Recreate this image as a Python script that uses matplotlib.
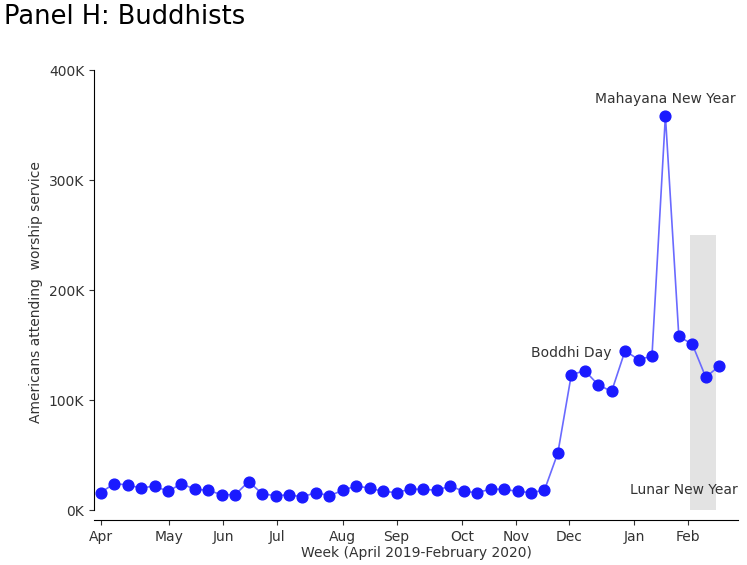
import matplotlib
matplotlib.use("Agg")
import matplotlib.pyplot as plt
from matplotlib.patches import Rectangle

values_k = [16,24,23,20,22,17,24,19,18,14,14,26,15,13,14,12,16,13,18,22,20,17,16,19,19,18,22,17,16,19,19,17,16,18,52,123,127,114,108,145,137,140,359,158,151,121,131]
weeks = list(range(len(values_k)))
month_labels = ["Apr","May","Jun","Jul","Aug","Sep","Oct","Nov","Dec","Jan","Feb"]
month_pos = [0,5.1,9.1,13.1,18.0,22.0,26.9,30.9,34.8,39.7,43.7]

fig = plt.figure(figsize=(7.47,5.65), dpi=100)
ax = fig.add_axes([94/747, 1-520/565, (738-94)/747, (520-65)/565])
ax.add_patch(Rectangle((43.8,0),2.0,250000,color="#e3e3e3",zorder=0,lw=0))
ax.plot(weeks,[v*1000 for v in values_k],color="#6a6aff",lw=1.2,zorder=2)
ax.scatter(weeks,[v*1000 for v in values_k],s=60,color="#1a1aff",zorder=3)
ax.set_xlim(-0.5,47.4)
ax.set_ylim(-9000,405000)
ax.set_yticks([0,100000,200000,300000,400000])
ax.set_yticklabels(["0K","100K","200K","300K","400K"])
ax.set_xticks(month_pos)
ax.set_xticklabels(month_labels)
for s in ["top","right"]:
    ax.spines[s].set_visible(False)
ax.spines["left"].set_bounds(0,400000)
ax.tick_params(labelsize=10,colors="#333333")
ax.set_ylabel("Americans attending  worship service",fontsize=10,color="#333333")
ax.set_xlabel("Week (April 2019-February 2020)",fontsize=10,color="#333333",labelpad=2)
ax.text(35.0,137000,"Boddhi Day",ha="center",va="bottom",fontsize=10,color="#333333")
ax.text(42,368000,"Mahayana New Year",ha="center",va="bottom",fontsize=10,color="#333333")
ax.text(47.4,18000,"Lunar New Year",ha="right",va="center",fontsize=10,color="#333333")
fig.text(4/747,1-17/565,"Panel H: Buddhists",fontsize=18.5,va="center",ha="left")
fig.savefig("out.png",dpi=100)
